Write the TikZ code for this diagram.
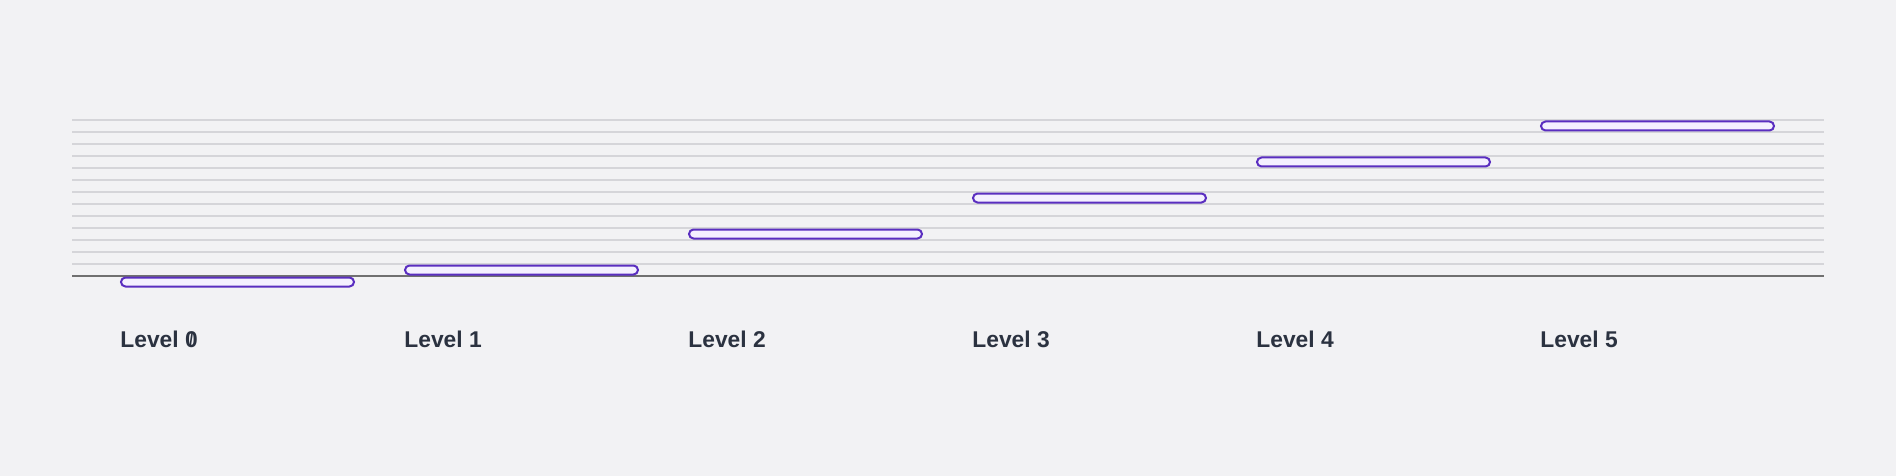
\documentclass[tikz,border=0pt]{standalone}
\usepackage{fontspec}
\usepackage{graphicx}
\usetikzlibrary{shapes.misc}
\setmainfont{Liberation Sans}
\definecolor{bgc}{HTML}{F2F2F4}
\definecolor{gridc}{HTML}{D5D5D9}
\definecolor{basec}{HTML}{707070}
\definecolor{barc}{HTML}{5A2EC0}
\definecolor{barfill}{HTML}{F4F0FF}
\definecolor{txtc}{HTML}{2B3240}
\newcommand\slzero{\ooalign{0\cr\hidewidth\raisebox{0.15ex}{\scalebox{0.62}[0.78]{/}}\hidewidth}}
\tikzset{
  gridline/.style={draw=gridc, line width=0.65pt},
  baseline axis/.style={draw=basec, line width=0.75pt},
  levelbar/.style={draw=barc, fill=barfill, line width=1pt, rounded rectangle,
    minimum width=116.5pt, minimum height=4.5pt, inner sep=0pt},
  levellabel/.style={anchor=base west, inner sep=0pt, text=txtc, font=\fontsize{11.4}{13}\selectfont\bfseries}
}
\begin{document}
\begin{tikzpicture}[x=0.5pt,y=-0.5pt]
\fill[bgc] (0,0) rectangle (1896,476);
\useasboundingbox (0,0) rectangle (1896,476);
\foreach \yy in {120,132,...,264} {
  \coordinate (gl\yy) at (72,\yy);
  \coordinate (gr\yy) at (1824,\yy);
  \draw[gridline] (gl\yy) -- (gr\yy);
}
\coordinate (axl) at (72,276);
\coordinate (axr) at (1824,276);
\draw[baseline axis] (axl) -- (axr);
\node[levelbar] (b0) at (237.5,282) {};
\node[levelbar] (b1) at (521.5,270) {};
\node[levelbar] (b2) at (805.5,234) {};
\node[levelbar] (b3) at (1089.5,198) {};
\node[levelbar] (b4) at (1373.5,162) {};
\node[levelbar] (b5) at (1657.5,126) {};
\node[levellabel] (l0) at (120,347) {Level \slzero};
\node[levellabel] (l1) at (404,347) {Level 1};
\node[levellabel] (l2) at (688,347) {Level 2};
\node[levellabel] (l3) at (972,347) {Level 3};
\node[levellabel] (l4) at (1256,347) {Level 4};
\node[levellabel] (l5) at (1540,347) {Level 5};
\end{tikzpicture}
\end{document}
